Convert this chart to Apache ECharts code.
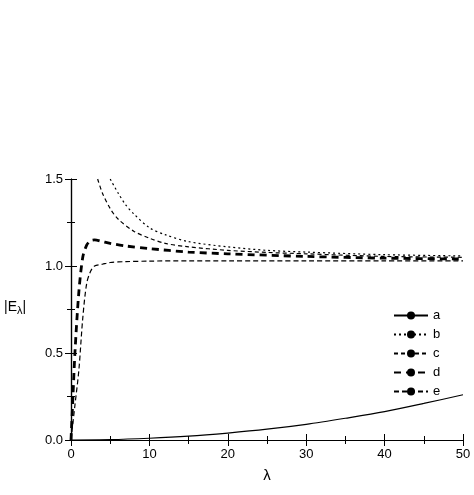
<!DOCTYPE html><html><head><meta charset="utf-8"><script src="https://cdn.jsdelivr.net/npm/echarts@6/dist/echarts.min.js"></script></head><body style="margin:0"><div id="c" style="width:474px;height:495px"></div><script>
const aX=[0,5,10,15,20,25,30,35,40,45,50], aY=[0,0.002,0.01,0.022,0.04,0.062,0.09,0.125,0.163,0.21,0.26];
const bX=[5,6,7,8,10,12,15,20,25,30,40,50], bY=[1.5,1.42,1.35,1.3,1.22,1.18,1.14,1.11,1.09,1.08,1.065,1.058];
const cX=[3.4,4,5,6,8,10,12,15,20,25,30,40,50], cY=[1.5,1.42,1.33,1.27,1.2,1.16,1.13,1.11,1.09,1.078,1.07,1.055,1.05];
const dX=[0,0.25,0.5,1,1.5,2,2.5,3,4,5,7,10,15,20,30,40,50], dY=[0,0.25,0.5,0.85,1.05,1.12,1.145,1.15,1.14,1.13,1.115,1.1,1.08,1.07,1.055,1.045,1.04];
const eX=[0,0.5,1,1.5,2,2.5,3,4,5,7,10,15,20,30,40,50], eY=[0,0.2,0.4,0.7,0.9,0.97,1.0,1.01,1.02,1.025,1.028,1.03,1.03,1.03,1.03,1.03];
const z=(X,Y)=>X.map((x,i)=>[x,Y[i]]);
const mk=(n,X,Y,type,w)=>({name:n,type:'line',data:z(X,Y),symbol:'none',smooth:0.3,clip:true,lineStyle:{color:'#000',width:w,type:type},itemStyle:{color:'#000'}});
const lbl={color:'#000',fontSize:13,fontFamily:'Liberation Sans, Arial'};
const ax=(o)=>Object.assign({axisLine:{lineStyle:{color:'#000',width:1.2}},axisTick:{inside:true,length:6,lineStyle:{color:'#000'}},minorTick:{show:true,splitNumber:2,length:4,lineStyle:{color:'#000'}},splitLine:{show:false},axisLabel:lbl},o);
echarts.init(document.getElementById('c')).setOption({animation:false,
grid:{left:71,right:11,top:179,bottom:55},
xAxis:[ax({type:'value',min:0,max:50,interval:10,name:'λ',nameLocation:'middle',nameGap:28,nameTextStyle:{fontSize:15,color:'#000'}}),
 ax({type:'value',min:0,max:50,interval:10,position:'top',axisLabel:{show:false}})],
yAxis:[ax({type:'value',min:0,max:1.5,interval:0.5,axisLabel:Object.assign({},lbl,{formatter:v=>v.toFixed(1)})}),
 ax({type:'value',min:0,max:1.5,interval:0.5,position:'right',axisLabel:{show:false}})],
legend:{orient:'vertical',left:388,top:304,itemWidth:34,itemHeight:10,itemGap:6,textStyle:{fontSize:13,color:'#000'},data:['a','b','c','d','e']},
graphic:[{type:'text',left:4,top:300,style:{text:'|E{s|λ}|',rich:{s:{fontSize:11,verticalAlign:'bottom',padding:[8,0,0,0]}},fontSize:14,fill:'#000'}}],
series:[mk('a',aX,aY,'solid',1.2),mk('b',bX,bY,[2,3],1.2),mk('c',cX,cY,[4,3],1.2),mk('d',dX,dY,[7,5],2.8),mk('e',eX,eY,[5,3],1.2)]});
</script></body></html>
